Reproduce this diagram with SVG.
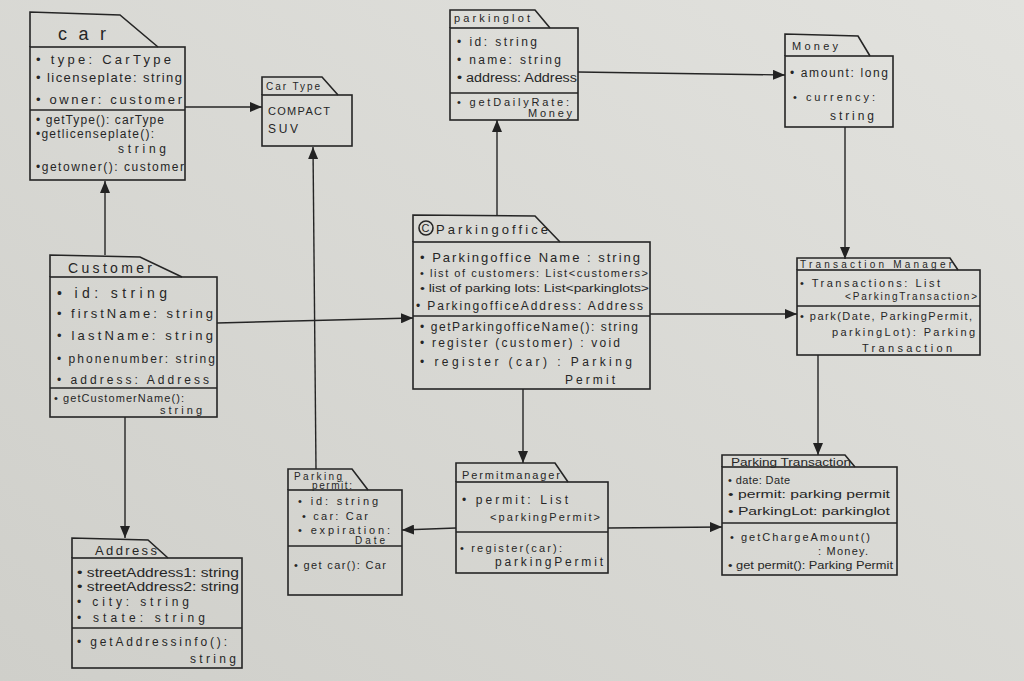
<svg xmlns="http://www.w3.org/2000/svg" width="1024" height="681" viewBox="0 0 1024 681">
<defs>
<linearGradient id="paper" x1="0" y1="1" x2="1" y2="0">
<stop offset="0" stop-color="#cfcfca"/>
<stop offset="1" stop-color="#e2e2de"/>
</linearGradient>
<marker id="ah" viewBox="0 0 12 10" refX="12" refY="5" markerWidth="12" markerHeight="10" markerUnits="userSpaceOnUse" orient="auto">
<path d="M0,0 L12,5 L0,10 Z" fill="#222"/>
</marker>
<style>
.b{fill:none;stroke:#252525;stroke-width:1.6}
.c{fill:none;stroke:#252525;stroke-width:1.4;marker-end:url(#ah)}
text{font-family:"Liberation Sans",Arial,sans-serif;fill:#262626;font-size:12px}
.t{font-size:11px}
.s{font-size:10px}
</style>
</defs>
<rect width="1024" height="681" fill="url(#paper)"/>

<g id="connectors">
<path class="c" d="M185,107 L262,107"/>
<path class="c" d="M105,255 L105,181"/>
<path class="c" d="M316,469 L313,147"/>
<path class="c" d="M497,215 L497,120"/>
<path class="c" d="M578,72 L785,75"/>
<path class="c" d="M845,127 L845,259"/>
<path class="c" d="M217,323 L413,318"/>
<path class="c" d="M650,314 L797,314"/>
<path class="c" d="M523,389 L523,463"/>
<path class="c" d="M818,355 L818,455"/>
<path class="c" d="M125,417 L125,538"/>
<path class="c" d="M456,528 L402,530"/>
<path class="c" d="M608,528 L722,527"/>
</g>

<g id="car">
<path class="b" d="M30,47 L30,12 L120,15 L158,47"/>
<rect class="b" x="30" y="47" width="155" height="133"/>
<line class="b" x1="30" y1="110" x2="185" y2="110"/>
<text x="58" y="40" style="font-size:18px" textLength="48">car</text>
<text x="36" y="64" style="font-size:13px" textLength="135">• type: CarType</text>
<text x="36" y="82" style="font-size:13px" textLength="146">• licenseplate: string</text>
<text x="36" y="104" style="font-size:13px" textLength="146">• owner: customer</text>
<text x="36" y="124" textLength="128">• getType(): carType</text>
<text x="36" y="138" textLength="118">•getlicenseplate():</text>
<text x="118" y="153" textLength="48">string</text>
<text x="36" y="171" textLength="148">•getowner(): customer</text>
</g>

<g id="cartype">
<path class="b" d="M262,95 L262,77 L322,77 L338,95"/>
<rect class="b" x="262" y="95" width="90" height="51"/>
<text x="266" y="90" class="s" textLength="54">Car Type</text>
<text x="268" y="115" class="t" textLength="62">COMPACT</text>
<text x="268" y="133" textLength="30">SUV</text>
</g>

<g id="parkinglot">
<path class="b" d="M450,28 L450,10 L535,10 L550,28"/>
<rect class="b" x="450" y="28" width="128" height="92"/>
<line class="b" x1="450" y1="93" x2="578" y2="93"/>
<text x="454" y="22" class="t" textLength="76">parkinglot</text>
<text x="457" y="46" textLength="80">• id: string</text>
<text x="457" y="64" textLength="104">• name: string</text>
<text x="457" y="82" textLength="120" lengthAdjust="spacingAndGlyphs">• address: Address</text>
<text x="457" y="106" class="t" textLength="112">• getDailyRate:</text>
<text x="528" y="117" class="t" textLength="44">Money</text>
</g>

<g id="money">
<path class="b" d="M785,56 L785,34 L858,36 L870,56"/>
<rect class="b" x="785" y="56" width="108" height="71"/>
<text x="792" y="50" class="t" textLength="46">Money</text>
<text x="790" y="77" textLength="98">• amount: long</text>
<text x="793" y="101" class="t" textLength="82">• currency:</text>
<text x="830" y="120" textLength="44">string</text>
</g>

<g id="parkingoffice">
<path class="b" d="M413,242 L413,215 L535,216 L560,242"/>
<rect class="b" x="413" y="242" width="237" height="147"/>
<line class="b" x1="413" y1="316" x2="650" y2="316"/>
<circle cx="426" cy="228" r="7" class="b"/>
<text x="421.5" y="232" class="t">C</text>
<text x="436" y="234" style="font-size:13px" textLength="112">Parkingoffice</text>
<text x="420" y="262" style="font-size:13px" textLength="220">• Parkingoffice Name : string</text>
<text x="420" y="277" class="t" textLength="228">• list of customers: List&lt;customers&gt;</text>
<text x="420" y="292" class="t" textLength="229" lengthAdjust="spacingAndGlyphs">• list of parking lots: List&lt;parkinglots&gt;</text>
<text x="416" y="310" textLength="227">• ParkingofficeAddress: Address</text>
<text x="420" y="331" textLength="218">• getParkingofficeName(): string</text>
<text x="420" y="347" textLength="200">• register (customer) : void</text>
<text x="420" y="366" textLength="212">• register (car) : Parking</text>
<text x="565" y="384" textLength="50">Permit</text>
</g>

<g id="transactionmanager">
<path class="b" d="M797,270 L797,258 L950,258 L958,270"/>
<rect class="b" x="797" y="270" width="183" height="85"/>
<line class="b" x1="797" y1="306" x2="980" y2="306"/>
<text x="800" y="268" class="s" textLength="152">Transaction Manager</text>
<text x="800" y="287" class="t" textLength="140">• Transactions: List</text>
<text x="845" y="300" class="s" textLength="132">&lt;ParkingTransaction&gt;</text>
<text x="800" y="320" class="t" textLength="172">• park(Date, ParkingPermit,</text>
<text x="832" y="336" class="t" textLength="143">parkingLot): Parking</text>
<text x="862" y="352" class="t" textLength="90">Transaction</text>
</g>

<g id="customer">
<path class="b" d="M50,277 L50,255 L140,257 L182,277"/>
<rect class="b" x="50" y="277" width="167" height="140"/>
<line class="b" x1="50" y1="388" x2="217" y2="388"/>
<text x="68" y="273" style="font-size:14px" textLength="84">Customer</text>
<text x="57" y="298" style="font-size:14px" textLength="110">• id: string</text>
<text x="57" y="318" style="font-size:13px" textLength="156">• firstName: string</text>
<text x="57" y="340" style="font-size:13px" textLength="156">• lastName: string</text>
<text x="57" y="363" style="font-size:12px" textLength="158">• phonenumber: string</text>
<text x="57" y="384" style="font-size:12px" textLength="152">• address: Address</text>
<text x="54" y="402" class="t" textLength="130">• getCustomerName():</text>
<text x="160" y="414" class="t" textLength="42">string</text>
</g>

<g id="address">
<path class="b" d="M72,558 L72,538 L148,540 L168,558"/>
<rect class="b" x="72" y="558" width="170" height="110"/>
<line class="b" x1="72" y1="628" x2="242" y2="628"/>
<text x="95" y="555" style="font-size:13px" textLength="62">Address</text>
<text x="77" y="577" textLength="162" lengthAdjust="spacingAndGlyphs">• streetAddress1: string</text>
<text x="77" y="591" textLength="162" lengthAdjust="spacingAndGlyphs">• streetAddress2: string</text>
<text x="77" y="606" textLength="112">•   city: string</text>
<text x="77" y="622" textLength="128">•    state: string</text>
<text x="77" y="646" textLength="150">• getAddressinfo():</text>
<text x="190" y="663" textLength="46">string</text>
</g>

<g id="parkingpermit">
<path class="b" d="M288,490 L288,469 L352,469 L368,490"/>
<rect class="b" x="288" y="490" width="114" height="105"/>
<line class="b" x1="288" y1="546" x2="402" y2="546"/>
<text x="294" y="480" class="s" textLength="48">Parking</text>
<text x="312" y="489" class="s" textLength="40">permit:</text>
<text x="298" y="505" class="t" textLength="80">• id: string</text>
<text x="302" y="520" class="t" textLength="66">• car: Car</text>
<text x="298" y="534" class="t" textLength="92">• expiration:</text>
<text x="355" y="544" class="s" textLength="30">Date</text>
<text x="294" y="569" class="t" textLength="92">• get car(): Car</text>
</g>

<g id="permitmanager">
<path class="b" d="M456,482 L456,463 L555,463 L568,482"/>
<rect class="b" x="456" y="482" width="152" height="91"/>
<line class="b" x1="456" y1="532" x2="608" y2="532"/>
<text x="462" y="479" class="t" textLength="98">Permitmanager</text>
<text x="462" y="504" textLength="106">• permit: List</text>
<text x="490" y="521" class="t" textLength="110">&lt;parkingPermit&gt;</text>
<text x="460" y="552" class="t" textLength="102">• register(car):</text>
<text x="495" y="566" textLength="108">parkingPermit</text>
</g>

<g id="parkingtransaction">
<path class="b" d="M722,467 L722,455 L845,455 L855,467"/>
<rect class="b" x="722" y="467" width="175" height="108"/>
<line class="b" x1="722" y1="523" x2="897" y2="523"/>
<text x="731" y="466" class="s" textLength="120" lengthAdjust="spacingAndGlyphs">Parking Transaction</text>
<text x="728" y="484" class="t" textLength="62">• date: Date</text>
<text x="728" y="498" class="t" textLength="162" lengthAdjust="spacingAndGlyphs">• permit: parking permit</text>
<text x="728" y="515" class="t" textLength="162" lengthAdjust="spacingAndGlyphs">• ParkingLot: parkinglot</text>
<text x="730" y="541" class="t" textLength="140">• getChargeAmount()</text>
<text x="818" y="555" class="t" textLength="50">: Money.</text>
<text x="728" y="569" class="s" textLength="165" lengthAdjust="spacingAndGlyphs">• get permit(): Parking Permit</text>
</g>
</svg>
